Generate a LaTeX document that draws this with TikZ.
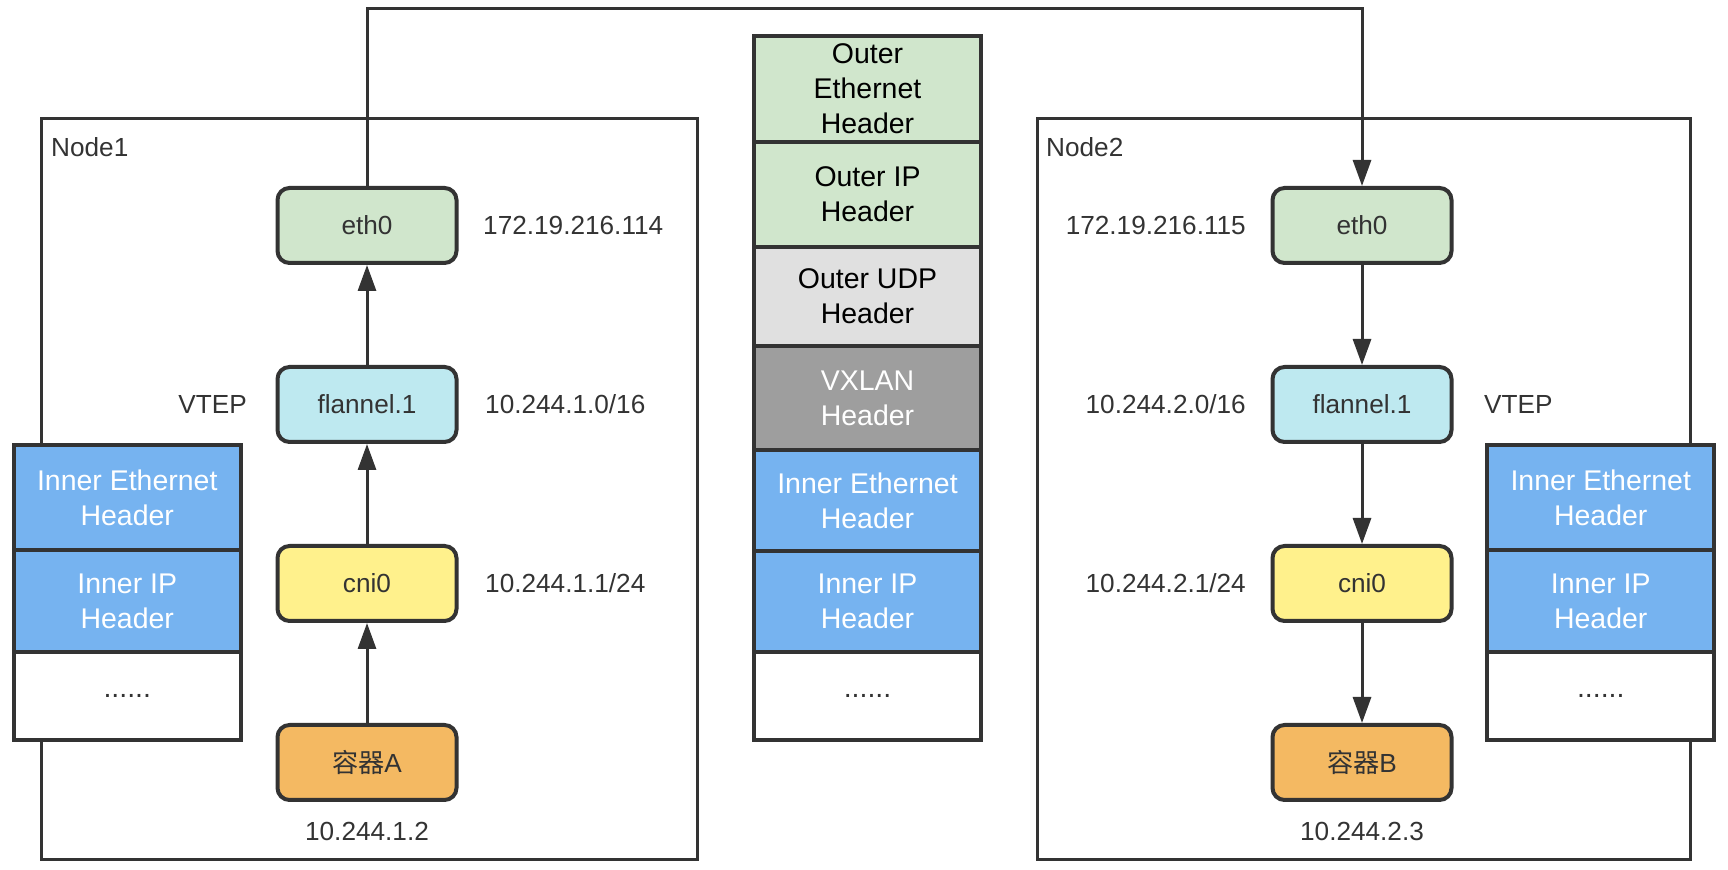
\documentclass[tikz,border=0pt]{standalone}
\usepackage{fontspec}
\setmainfont{Liberation Sans}
\newfontfamily\cjkfont{Noto Sans CJK SC}
\usepackage{tikz}
\usetikzlibrary{arrows.meta,positioning}
\definecolor{edgegrey}{RGB}{51,51,51}
\definecolor{ethgreen}{RGB}{208,230,204}
\definecolor{vtepcyan}{RGB}{190,233,240}
\definecolor{cniyellow}{RGB}{255,241,140}
\definecolor{podorange}{RGB}{244,185,98}
\definecolor{udpgrey}{RGB}{224,224,224}
\definecolor{vxgrey}{RGB}{158,158,158}
\definecolor{innerblue}{RGB}{118,179,240}
\newcommand{\lblfont}{\fontsize{7.45}{9.5}\selectfont}
\newcommand{\hdrfont}{\fontsize{8.1}{10}\selectfont}

\begin{document}
\begin{tikzpicture}[x=1mm,y=1mm,
  ifc/.style={draw=edgegrey,line width=0.4mm,rounded corners=1.2mm,
              minimum width=17.9mm,minimum height=7.5mm,font=\lblfont,text=edgegrey},
  hdr/.style={draw=edgegrey,line width=0.4mm,minimum width=22.7mm,outer sep=0pt,
              inner sep=0pt,align=center,font=\hdrfont},
  hostbox/.style={draw=edgegrey,line width=0.3mm},
  lbl/.style={font=\lblfont,text=edgegrey,inner sep=0pt},
  arr/.style={-{Triangle[length=2.6mm,width=1.8mm]},line width=0.3mm,draw=edgegrey},
  node distance=10mm
]
\useasboundingbox (0,0) rectangle (172.8,87);
\node[hostbox,minimum width=65.55mm,minimum height=74.1mm] (host1) at (36.975,38.05) {};
\node[hostbox,minimum width=65.3mm,minimum height=74.1mm] (host2) at (136.35,38.05) {};
\node[lbl,below right=1.9mm and 1mm of host1.north west] (host1lbl) {Node1};
\node[lbl,below right=1.9mm and 1mm of host2.north west] (host2lbl) {Node2};

\node[ifc,fill=ethgreen] (etha) at (36.7,64.45) {eth0};
\node[ifc,fill=vtepcyan,below=of etha]  (flanna) {flannel.1};
\node[ifc,fill=cniyellow,below=of flanna] (cnia) {cni0};
\node[ifc,fill=podorange,below=of cnia]  (poda) {{\cjkfont 容器}A};
\node[lbl,right=2.4mm of etha]   (ipetha)   {172.19.216.114};
\node[lbl,right=2.6mm of flanna] (ipflanna) {10.244.1.0/16};
\node[lbl,right=2.6mm of cnia]   (ipcnia)   {10.244.1.1/24};
\node[lbl,left=2.8mm of flanna]  (vtepa)    {VTEP};
\node[lbl,below=2mm of poda]     (ippoda)   {10.244.1.2};

\node[ifc,fill=ethgreen] (ethb) at (136.2,64.45) {eth0};
\node[ifc,fill=vtepcyan,below=of ethb]  (flannb) {flannel.1};
\node[ifc,fill=cniyellow,below=of flannb] (cnib) {cni0};
\node[ifc,fill=podorange,below=of cnib]  (podb) {{\cjkfont 容器}B};
\node[lbl,left=2.4mm of ethb]    (ipethb)   {172.19.216.115};
\node[lbl,left=2.4mm of flannb]  (ipflannb) {10.244.2.0/16};
\node[lbl,left=2.4mm of cnib]    (ipcnib)   {10.244.2.1/24};
\node[lbl,right=3mm of flannb]   (vtepb)    {VTEP};
\node[lbl,below=2mm of podb]     (ippodb)   {10.244.2.3};

\draw[arr] (poda) -- (cnia);
\draw[arr] (cnia) -- (flanna);
\draw[arr] (flanna) -- (etha);
\draw[arr] (etha.north) -- ++(0,17.7) -| (ethb.north);
\draw[arr] (ethb) -- (flannb);
\draw[arr] (flannb) -- (cnib);
\draw[arr] (cnib) -- (podb);

\node[hdr,fill=ethgreen,minimum height=10.6mm,anchor=north] (oeth) at (86.75,83.4) {Outer\\Ethernet\\Header};
\node[hdr,fill=ethgreen,minimum height=10.5mm,below=0pt of oeth] (oip) {Outer IP\\Header};
\node[hdr,fill=udpgrey,minimum height=9.9mm,below=0pt of oip] (oudp) {Outer UDP\\Header};
\node[hdr,fill=vxgrey,text=white,minimum height=10.4mm,below=0pt of oudp] (vxlan) {VXLAN\\Header};
\node[hdr,fill=innerblue,text=white,minimum height=10.1mm,below=0pt of vxlan] (ieth) {Inner Ethernet\\Header};
\node[hdr,fill=innerblue,text=white,minimum height=10.1mm,below=0pt of ieth] (iip) {Inner IP\\Header};
\node[hdr,fill=white,text=edgegrey,minimum height=8.8mm,below=0pt of iip] (idots) {......};

\node[hdr,fill=innerblue,text=white,minimum height=10.5mm,anchor=north] (iethl) at (12.725,42.5) {Inner Ethernet\\Header};
\node[hdr,fill=innerblue,text=white,minimum height=10.2mm,below=0pt of iethl] (iipl) {Inner IP\\Header};
\node[hdr,fill=white,text=edgegrey,minimum height=8.8mm,below=0pt of iipl] (idotsl) {......};

\node[hdr,fill=innerblue,text=white,minimum height=10.5mm,anchor=north] (iethr) at (160.075,42.5) {Inner Ethernet\\Header};
\node[hdr,fill=innerblue,text=white,minimum height=10.2mm,below=0pt of iethr] (iipr) {Inner IP\\Header};
\node[hdr,fill=white,text=edgegrey,minimum height=8.8mm,below=0pt of iipr] (idotsr) {......};
\end{tikzpicture}
\end{document}
